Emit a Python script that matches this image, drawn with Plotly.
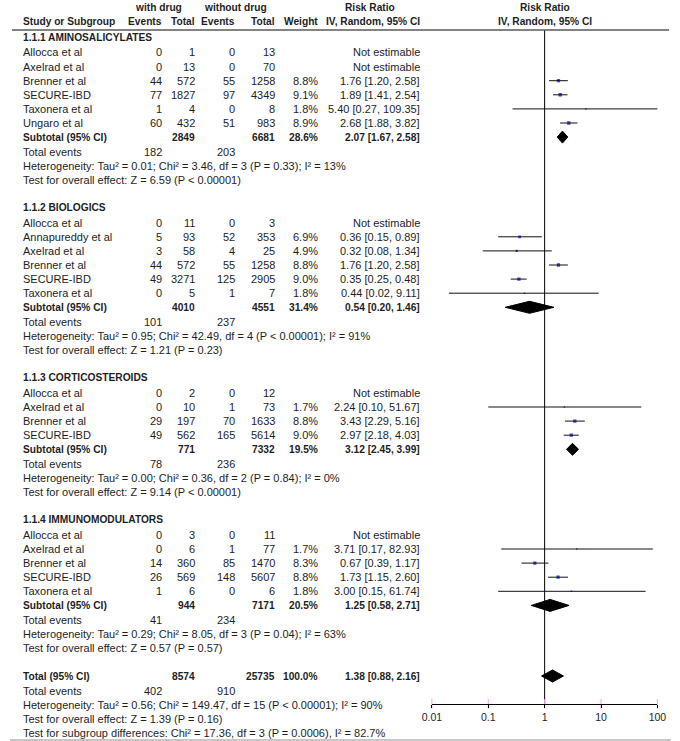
import plotly.graph_objects as go

W, H = 680, 741

# ---------------- data ----------------
section_titles = ["1.1.1 AMINOSALICYLATES", "1.1.2 BIOLOGICS",
                  "1.1.3 CORTICOSTEROIDS", "1.1.4 IMMUNOMODULATORS"]

study_section = [0] * 6 + [1] * 6 + [2] * 4 + [3] * 5
study_names = ["Allocca et al", "Axelrad et al", "Brenner et al", "SECURE-IBD", "Taxonera et al", "Ungaro et al",
               "Allocca et al", "Annapureddy et al", "Axelrad et al", "Brenner et al", "SECURE-IBD", "Taxonera et al",
               "Allocca et al", "Axelrad et al", "Brenner et al", "SECURE-IBD",
               "Allocca et al", "Axelrad et al", "Brenner et al", "SECURE-IBD", "Taxonera et al"]
events_drug = [0, 0, 44, 77, 1, 60, 0, 5, 3, 44, 49, 0, 0, 0, 29, 49, 0, 0, 14, 26, 1]
total_drug = [1, 13, 572, 1827, 4, 432, 11, 93, 58, 572, 3271, 5, 2, 10, 197, 562, 3, 6, 360, 569, 6]
events_nodrug = [0, 0, 55, 97, 0, 51, 0, 52, 4, 55, 125, 1, 0, 1, 70, 165, 0, 1, 85, 148, 0]
total_nodrug = [13, 70, 1258, 4349, 8, 983, 3, 353, 25, 1258, 2905, 7, 12, 73, 1633, 5614, 11, 77, 1470, 5607, 6]
weight = [None, None, 8.8, 9.1, 1.8, 8.9, None, 6.9, 4.9, 8.8, 9.0, 1.8,
          None, 1.7, 8.8, 9.0, None, 1.7, 8.3, 8.8, 1.8]
rr = [None, None, 1.76, 1.89, 5.40, 2.68, None, 0.36, 0.32, 1.76, 0.35, 0.44,
      None, 2.24, 3.43, 2.97, None, 3.71, 0.67, 1.73, 3.00]
ci_low = [None, None, 1.20, 1.41, 0.27, 1.88, None, 0.15, 0.08, 1.20, 0.25, 0.02,
          None, 0.10, 2.29, 2.18, None, 0.17, 0.39, 1.15, 0.15]
ci_high = [None, None, 2.58, 2.54, 109.35, 3.82, None, 0.89, 1.34, 2.58, 0.48, 9.11,
           None, 51.67, 5.16, 4.03, None, 82.93, 1.17, 2.60, 61.74]

sub_total_drug = [2849, 4010, 771, 944]
sub_total_nodrug = [6681, 4551, 7332, 7171]
sub_weight = [28.6, 31.4, 19.5, 20.5]
sub_rr = [2.07, 0.54, 3.12, 1.25]
sub_low = [1.67, 0.20, 2.45, 0.58]
sub_high = [2.58, 1.46, 3.99, 2.71]
sub_events_drug = [182, 101, 78, 41]
sub_events_nodrug = [203, 237, 236, 234]
sub_heterogeneity = [
    "Heterogeneity: Tau² = 0.01; Chi² = 3.46, df = 3 (P = 0.33); I² = 13%",
    "Heterogeneity: Tau² = 0.95; Chi² = 42.49, df = 4 (P < 0.00001); I² = 91%",
    "Heterogeneity: Tau² = 0.00; Chi² = 0.36, df = 2 (P = 0.84); I² = 0%",
    "Heterogeneity: Tau² = 0.29; Chi² = 8.05, df = 3 (P = 0.04); I² = 63%",
]
sub_overall = [
    "Test for overall effect: Z = 6.59 (P < 0.00001)",
    "Test for overall effect: Z = 1.21 (P = 0.23)",
    "Test for overall effect: Z = 9.14 (P < 0.00001)",
    "Test for overall effect: Z = 0.57 (P = 0.57)",
]

total_total_drug = 8574
total_total_nodrug = 25735
total_weight = 100.0
total_rr = 1.38
total_low = 0.88
total_high = 2.16
total_events_drug = 402
total_events_nodrug = 910
total_heterogeneity = "Heterogeneity: Tau² = 0.56; Chi² = 149.47, df = 15 (P < 0.00001); I² = 90%"
total_overall = "Test for overall effect: Z = 1.39 (P = 0.16)"
subgroup_diff = "Test for subgroup differences: Chi² = 17.36, df = 3 (P = 0.0006), I² = 82.7%"

tick_vals = [0.01, 0.1, 1, 10, 100]
tick_text = ["0.01", "0.1", "1", "10", "100"]

# ---------------- layout geometry (pixels) ----------------
AXIS_Y = 704
X_NAME, X_EV1, X_TOT1, X_EV2, X_TOT2, X_W, X_RR = 12, 157, 191, 233, 274, 318, 423
FONT = "Liberation Sans, Arial, sans-serif"
NS, BS = 11.0, 10.2
TXT_COLOR = "#1e1e1e"

annotations = []


def txt(px, py, s, anchor="left", bold=False, size=None):
    annotations.append(dict(
        x=px / W, y=1 - py / H, xref="paper", yref="paper",
        text=f"<b>{s}</b>" if bold else s, showarrow=False,
        xanchor=anchor, yanchor="middle", borderpad=0,
        font=dict(family=FONT, size=size or (BS if bold else NS), color=TXT_COLOR)))


# header
txt(153, 8, "with drug", "center", True)
txt(232, 8, "without drug", "center", True)
txt(370, 8, "Risk Ratio", "center", True)
txt(550, 8, "Risk Ratio", "center", True)
txt(X_NAME, 22, "Study or Subgroup", "left", True)
txt(X_EV1, 22, "Events", "right", True)
txt(X_TOT1, 22, "Total", "right", True)
txt(X_EV2, 22, "Events", "right", True)
txt(X_TOT2, 22, "Total", "right", True)
txt(X_W, 22, "Weight", "right", True)
txt(X_RR, 22, "IV, Random, 95% CI", "right", True)
txt(550, 22, "IV, Random, 95% CI", "center", True)

study_y = [None] * len(study_names)
sub_y = []
y = 37.0
for s, title in enumerate(section_titles):
    if s > 0:
        y += 27.5
    txt(X_NAME, y, title, "left", True)
    y += 15.5
    for i in range(len(study_names)):
        if study_section[i] != s:
            continue
        study_y[i] = y
        txt(X_NAME, y, study_names[i])
        txt(X_EV1, y, str(events_drug[i]), "right")
        txt(X_TOT1, y, str(total_drug[i]), "right")
        txt(X_EV2, y, str(events_nodrug[i]), "right")
        txt(X_TOT2, y, str(total_nodrug[i]), "right")
        if weight[i] is not None:
            txt(X_W, y, f"{weight[i]:.1f}%", "right")
            txt(X_RR, y, f"{rr[i]:.2f} [{ci_low[i]:.2f}, {ci_high[i]:.2f}]", "right")
        else:
            txt(X_RR, y, "Not estimable", "right")
        y += 14.1
    sub_y.append(y)
    txt(X_NAME, y, "Subtotal (95% CI)", "left", True)
    txt(X_TOT1, y, str(sub_total_drug[s]), "right", True)
    txt(X_TOT2, y, str(sub_total_nodrug[s]), "right", True)
    txt(X_W, y, f"{sub_weight[s]:.1f}%", "right", True)
    txt(X_RR, y, f"{sub_rr[s]:.2f} [{sub_low[s]:.2f}, {sub_high[s]:.2f}]", "right", True)
    y += 14.6
    txt(X_NAME, y, "Total events")
    txt(X_EV1, y, str(sub_events_drug[s]), "right")
    txt(X_EV2, y, str(sub_events_nodrug[s]), "right")
    y += 14
    txt(X_NAME, y, sub_heterogeneity[s])
    y += 14
    txt(X_NAME, y, sub_overall[s])

y += 28
tot_y = y
txt(X_NAME, y, "Total (95% CI)", "left", True)
txt(X_TOT1, y, str(total_total_drug), "right", True)
txt(X_TOT2, y, str(total_total_nodrug), "right", True)
txt(X_W, y, f"{total_weight:.1f}%", "right", True)
txt(X_RR, y, f"{total_rr:.2f} [{total_low:.2f}, {total_high:.2f}]", "right", True)
y += 15
txt(X_NAME, y, "Total events")
txt(X_EV1, y, str(total_events_drug), "right")
txt(X_EV2, y, str(total_events_nodrug), "right")
y += 14
txt(X_NAME, y, total_heterogeneity)
y += 14
txt(X_NAME, y, total_overall)
y += 14
txt(X_NAME, y, subgroup_diff)

# ---------------- marks ----------------
fig = go.Figure()

# null line
fig.add_trace(go.Scatter(x=[1, 1], y=[30, AXIS_Y], mode="lines",
                         line=dict(color="black", width=1), hoverinfo="skip"))

# CI lines
lx, ly = [], []
for i in range(len(study_names)):
    if rr[i] is None:
        continue
    lx += [ci_low[i], ci_high[i], None]
    ly += [study_y[i], study_y[i], None]
fig.add_trace(go.Scatter(x=lx, y=ly, mode="lines", line=dict(color="#111111", width=1),
                         hoverinfo="skip"))

# squares
sx = [rr[i] for i in range(len(rr)) if rr[i] is not None]
sy = [study_y[i] for i in range(len(rr)) if rr[i] is not None]
ss = [1.0 + 0.26 * weight[i] for i in range(len(rr)) if rr[i] is not None]
fig.add_trace(go.Scatter(x=sx, y=sy, mode="markers",
                         marker=dict(symbol="square", size=ss, color="#00008b", line=dict(width=0)),
                         hoverinfo="skip"))


def diamond(est, lo, hi, yc, h=6):
    fig.add_trace(go.Scatter(x=[lo, est, hi, est, lo], y=[yc, yc - h, yc, yc + h, yc],
                             mode="lines", fill="toself", fillcolor="black",
                             line=dict(color="black", width=1), hoverinfo="skip"))


for s in range(len(section_titles)):
    diamond(sub_rr[s], sub_low[s], sub_high[s], sub_y[s])
diamond(total_rr, total_low, total_high, tot_y)

# crossing tick marks (upper halves)
fig.add_trace(go.Scatter(x=tick_vals, y=[AXIS_Y] * len(tick_vals), mode="markers",
                         marker=dict(symbol="line-ns-open", size=7, line=dict(color="black", width=1)),
                         cliponaxis=False, hoverinfo="skip"))

shapes = [
    dict(type="line", xref="paper", yref="paper", x0=2 / W, x1=678 / W,
         y0=1 - 30 / H, y1=1 - 30 / H, line=dict(color="#5a5a5a", width=1.5)),
    dict(type="line", xref="paper", yref="paper", x0=0, x1=1,
         y0=1 - 740 / H, y1=1 - 740 / H, line=dict(color="#b5b5b5", width=1.5)),
]

fig.update_layout(
    width=W, height=H, margin=dict(l=0, r=0, t=0, b=0),
    paper_bgcolor="white", plot_bgcolor="white", showlegend=False,
    annotations=annotations, shapes=shapes,
    xaxis=dict(type="log", range=[-2, 2], domain=[434 / W, 666 / W],
               tickvals=tick_vals, ticktext=tick_text, ticks="outside", ticklen=3,
               tickcolor="black", showline=True, linecolor="black", linewidth=1,
               showgrid=False, zeroline=False, fixedrange=True,
               tickfont=dict(family=FONT, size=10.5, color=TXT_COLOR)),
    yaxis=dict(range=[AXIS_Y, 0], domain=[1 - AXIS_Y / H, 1], visible=False,
               showgrid=False, zeroline=False, fixedrange=True),
)

fig.write_html("out.html", config={"displayModeBar": False, "staticPlot": True},
               post_script="document.body.style.margin='0';document.body.style.overflow='hidden';")
